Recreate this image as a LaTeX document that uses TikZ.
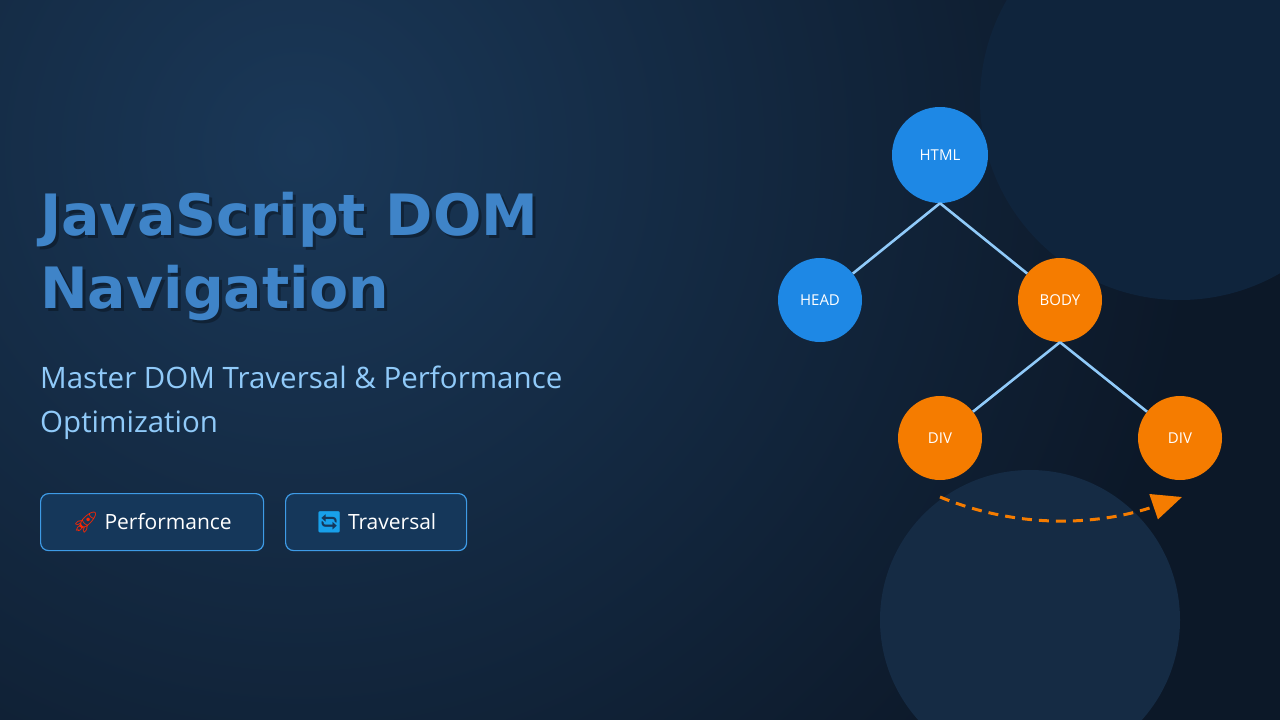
\documentclass[tikz,border=0pt]{standalone}
\usepackage{fontspec}
\setmainfont{Open Sans}
\newfontfamily\titlefont{DejaVu Sans}
\newfontfamily\emojifont{Noto Emoji}
\usepackage{xcolor}
\usetikzlibrary{arrows.meta}
\definecolor{bgdark}{HTML}{0C1828}
\definecolor{bglight}{HTML}{1A3858}
\definecolor{blobA}{HTML}{0F243C}
\definecolor{blobB}{HTML}{152B44}
\definecolor{nodeblue}{HTML}{1E88E5}
\definecolor{nodeorange}{HTML}{F57C00}
\definecolor{linkblue}{HTML}{90CAF9}
\definecolor{titleblue}{HTML}{3F84C8}
\definecolor{btnfill}{HTML}{15375A}
\definecolor{btnline}{HTML}{3E9BE6}
\tikzset{
  domnode/.style={circle,minimum size=#1,inner sep=0pt,text=white,font=\fontsize{15}{18}\selectfont},
  link/.style={linkblue,line width=2.6pt},
  headline/.style={anchor=base west,inner sep=0pt,font=\titlefont\bfseries\fontsize{57}{64}\selectfont},
  badge/.style={draw=btnline,fill=btnfill,line width=1.2pt,rounded corners=8pt,
    minimum height=57pt,text=white,font=\fontsize{21}{24}\selectfont,anchor=north west}
}
\begin{document}
\begin{tikzpicture}[x=1pt,y=-1pt]
    \useasboundingbox (0,0) rectangle (1280,720);
    % background
    \fill[bgdark] (0,0) rectangle (1280,720);
    \shade[inner color=bglight,outer color=bgdark] (300,150) circle (900);
    \fill[blobA] (1180,100) circle (200);
    \fill[blobB] (1030,620) circle (150);

    % title block
    \node[headline,text=black,opacity=0.3] at (43,238) {JavaScript DOM};
    \node[headline,text=titleblue] (title1) at (40,235) {JavaScript DOM};
    \node[headline,text=black,opacity=0.3] at (43,311) {Navigation};
    \node[headline,text=titleblue] (title2) at (40,308) {Navigation};
    \node[anchor=base west,inner sep=0pt,text=linkblue,font=\fontsize{29.5}{34}\selectfont] (sub1) at (40,388) {Master DOM Traversal \& Performance};
    \node[anchor=base west,inner sep=0pt,text=linkblue,font=\fontsize{29.5}{34}\selectfont] (sub2) at (40,432) {Optimization};

    % badges
    \node[badge,minimum width=223pt] (perf) at (40,493) {{\emojifont\color{red!70!orange}🚀}\ Performance};
    \node[badge,minimum width=181pt] (trav) at (285,493) {{\emojifont\color{nodeblue!80!cyan}🔄}\ Traversal};

    % tree
    \node[domnode=96pt,fill=nodeblue] (html) at (940,155) {HTML};
    \node[domnode=84pt,fill=nodeblue] (head) at (820,300) {HEAD};
    \node[domnode=84pt,fill=nodeorange] (body) at (1060,300) {BODY};
    \node[domnode=84pt,fill=nodeorange] (divA) at (940,438) {DIV};
    \node[domnode=84pt,fill=nodeorange] (divB) at (1180,438) {DIV};
    \draw[link] (html.south) -- (head);
    \draw[link] (html.south) -- (body);
    \draw[link] (body.south) -- (divA);
    \draw[link] (body.south) -- (divB);

    % sibling arrow
    \coordinate (arrS) at (940,497);
    \coordinate (arrE) at (1182,497);
    \draw[nodeorange,line width=3pt,dash pattern=on 10pt off 7pt,-{Triangle[length=30pt,width=26pt]}]
        (arrS) .. controls (1020,530) and (1100,525) .. (arrE);
\end{tikzpicture}
\end{document}
